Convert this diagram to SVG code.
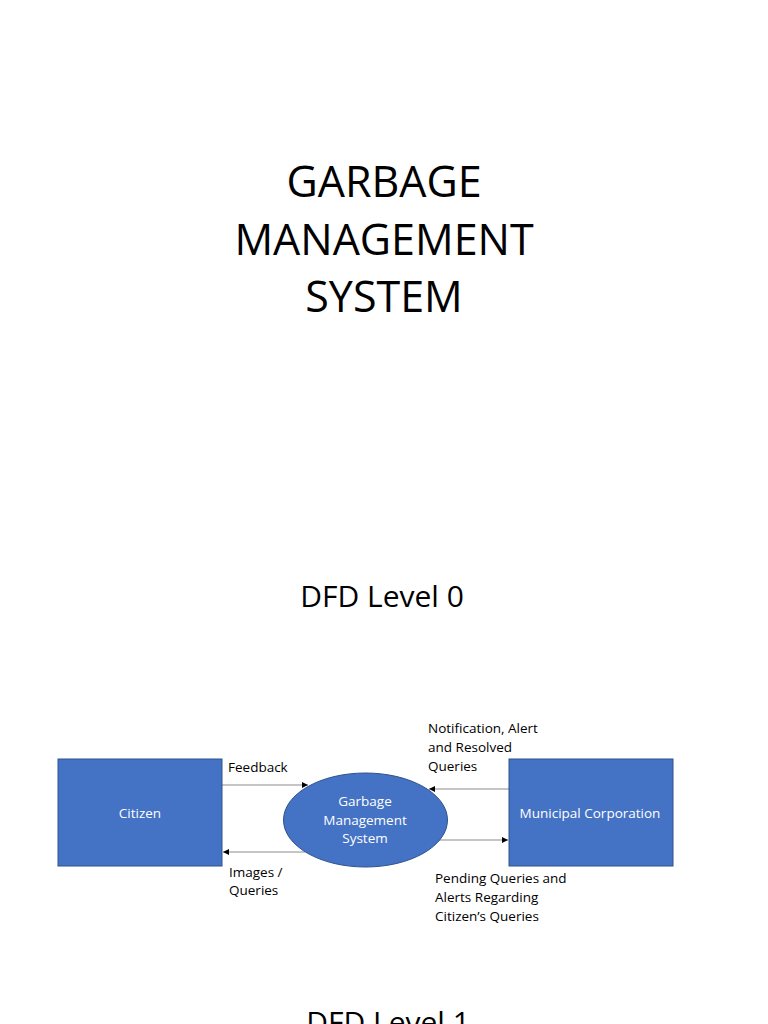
<svg xmlns="http://www.w3.org/2000/svg" width="768" height="1024" viewBox="0 0 768 1024">
<style>
text{font-family:"Open Sans","Liberation Sans",sans-serif}
.title{font-size:43px;fill:#000;text-anchor:middle}
.sub{font-size:30px;fill:#000;text-anchor:middle}
.lbl{font-size:13.5px;fill:#000}
.wt{font-size:13.5px;fill:#fff;text-anchor:middle}
.box{fill:#4472C4;stroke:#2F528F;stroke-width:1}
.flow{stroke:#8c8c8c;stroke-width:1.2;fill:none;marker-end:url(#ah)}
</style>
<defs>
<marker id="ah" markerWidth="6" markerHeight="6" refX="6" refY="3" orient="auto" markerUnits="userSpaceOnUse">
<path d="M0,0 L6,3 L0,6 Z" fill="#000"/>
</marker>
</defs>
<rect width="768" height="1024" fill="#fff"/>
<g id="title">
<text class="title" x="384" y="197">GARBAGE</text>
<text class="title" x="384" y="255">MANAGEMENT</text>
<text class="title" x="384" y="312">SYSTEM</text>
</g>
<text class="sub" x="382" y="607">DFD Level 0</text>
<g id="connectors">
<line class="flow" x1="222" y1="785" x2="308" y2="785"/>
<line class="flow" x1="305" y1="852" x2="223" y2="852"/>
<line class="flow" x1="509" y1="789" x2="429" y2="789"/>
<line class="flow" x1="437" y1="840" x2="508" y2="840"/>
<text class="lbl" x="228" y="772">Feedback</text>
<text class="lbl" x="229" y="877">Images /</text>
<text class="lbl" x="229" y="895">Queries</text>
<text class="lbl" x="428" y="733">Notification, Alert</text>
<text class="lbl" x="428" y="752">and Resolved</text>
<text class="lbl" x="428" y="771">Queries</text>
<text class="lbl" x="435" y="883">Pending Queries and</text>
<text class="lbl" x="435" y="902">Alerts Regarding</text>
<text class="lbl" x="435" y="921">Citizen’s Queries</text>
</g>
<g id="citizen">
<rect class="box" x="58" y="759" width="164" height="107"/>
<text class="wt" x="140" y="818">Citizen</text>
</g>
<g id="gms">
<ellipse class="box" cx="365.500" cy="820" rx="82" ry="47"/>
<text class="wt" x="365" y="806">Garbage</text>
<text class="wt" x="365" y="825">Management</text>
<text class="wt" x="365" y="843">System</text>
</g>
<g id="municipal">
<rect class="box" x="509" y="759" width="164" height="107"/>
<text class="wt" x="590" y="818">Municipal Corporation</text>
</g>
<text class="sub" x="388" y="1033">DFD Level 1</text>
</svg>
